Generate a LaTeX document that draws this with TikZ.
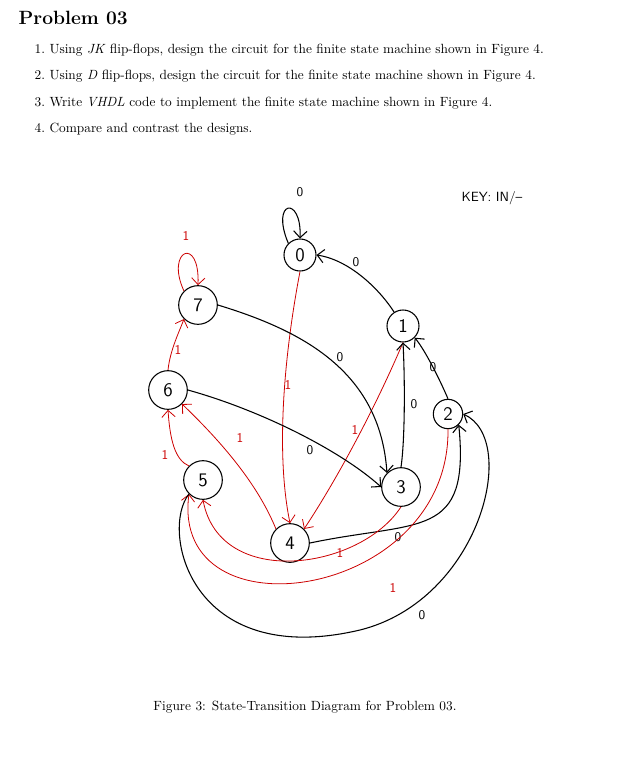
\documentclass[tikz,border=0pt]{standalone}
\usetikzlibrary{arrows.meta}
\begin{document}
\begin{tikzpicture}[x=0.75pt,y=-0.75pt,
  st/.style={draw,circle,thick,minimum size=29pt,inner sep=0pt,font=\sffamily\Large},
  bk/.style={thick,-{Straight Barb[length=5pt]}},
  rd/.style={bk,red!80!black,semithick},
  lb/.style={font=\sffamily},
  rl/.style={lb,text=red!80!black}]
\useasboundingbox (0,0) rectangle (625,757);
\node[anchor=west,font=\Large\bfseries] (title) at (14,18) {Problem 03};
\node[anchor=west] (i1) at (30,50) {1.\ Using \textit{JK} flip-flops, design the circuit for the finite state machine shown in Figure 4.};
\node[anchor=west] (i2) at (30,76) {2.\ Using \textit{D} flip-flops, design the circuit for the finite state machine shown in Figure 4.};
\node[anchor=west] (i3) at (30,103) {3.\ Write \textit{VHDL} code to implement the finite state machine shown in Figure 4.};
\node[anchor=west] (i4) at (30,129) {4.\ Compare and contrast the designs.};
\node (cap) at (305,707) {Figure 3: State-Transition Diagram for Problem 03.};
\node[font=\sffamily] (key) at (492,198) {KEY: IN/--};

\node[st,minimum size=24pt] (s0) at (300,255) {0};
\node[st] (s7) at (198,305) {7};
\node[st,minimum size=24pt] (s1) at (403,326) {1};
\node[st] (s6) at (168,390) {6};
\node[st,minimum size=22pt] (s2) at (448,414) {2};
\node[st] (s5) at (203,480) {5};
\node[st] (s3) at (401,487) {3};
\node[st] (s4) at (290,543) {4};

\draw[bk] (s0.north west) .. controls (270,200) and (302,195) .. (s0.north);
\node[lb] (l00) at (300,192) {0};
\draw[rd] (s7.north west) .. controls (165,250) and (200,235) .. (s7.north);
\node[rl] (l77) at (186,236) {1};
\draw[bk] (s1) .. controls (380,290) and (350,260) .. (s0.east);
\node[lb] (l10) at (356,262) {0};
\draw[rd] (s0.south) .. controls (285,350) and (275,450) .. (s4.north);
\node[rl] (l04) at (288,385) {1};
\draw[rd] (s1.south) .. controls (370,420) and (330,490) .. (s4.north east);
\node[rl] (l14) at (355,430) {1};
\draw[bk] (s2.north) .. controls (440,380) and (425,350) .. (s1.south east);
\node[lb] (l21) at (433,367) {0};
\draw[bk] (s3.north) .. controls (405,440) and (405,380) .. (s1.south);
\node[lb] (l31) at (414,404) {0};
\draw[bk] (s7.east) .. controls (300,330) and (380,370) .. (s3.north west);
\node[lb] (l73) at (340,357) {0};
\draw[bk] (s6.east) .. controls (260,410) and (340,450) .. (s3.west);
\node[lb] (l63) at (310,450) {0};
\draw[rd] (s6.north) .. controls (170,350) and (180,330) .. (s7.south west);
\node[rl] (l67) at (178,350) {1};
\draw[rd] (s5.north west) .. controls (175,460) and (170,440) .. (s6.south);
\node[rl] (l56) at (165,455) {1};
\draw[rd] (s4.north west) .. controls (260,490) and (230,450) .. (s6.south east);
\node[rl] (l46) at (240,438) {1};
\draw[bk] (s4.east) .. controls (420,520) and (470,540) .. (s2.south east);
\node[lb] (l42) at (398,537) {0};
\draw[rd] (s3.south) .. controls (360,570) and (220,590) .. (s5.south);
\node[rl] (l35) at (340,553) {1};
\draw[rd] (s2.south) .. controls (450,600) and (170,640) .. (s5.south west);
\node[rl] (l25) at (393,588) {1};
\draw[bk] (s5.south west) .. controls (160,530) and (190,670) .. (360,630) .. controls (480,600) and (520,440) .. (s2.east);
\node[lb] (l52) at (422,615) {0};
\end{tikzpicture}
\end{document}
